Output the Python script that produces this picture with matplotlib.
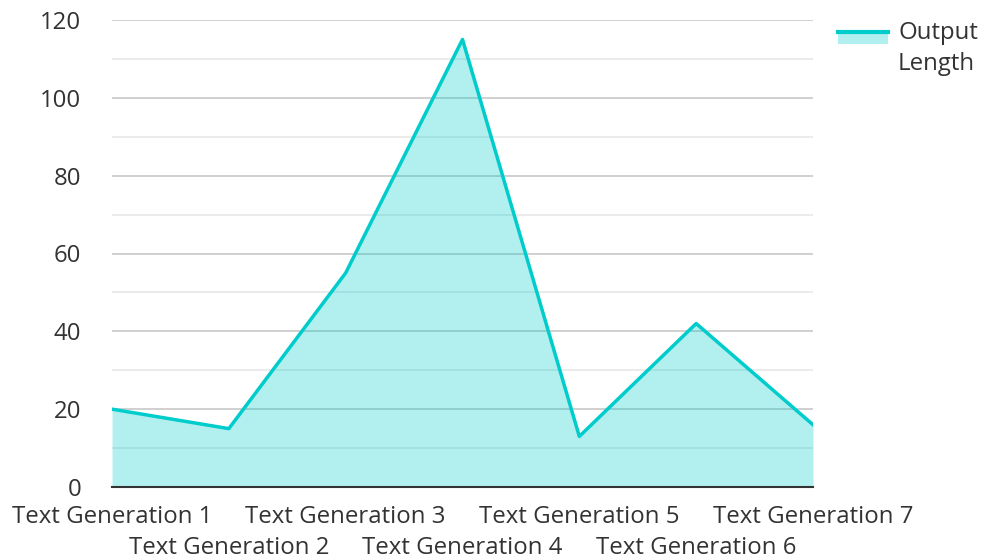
import matplotlib
matplotlib.use('Agg')
import matplotlib.pyplot as plt
from matplotlib.patches import Rectangle
from matplotlib.lines import Line2D
from matplotlib.ticker import FixedLocator, FixedFormatter

plt.rcParams['font.family'] = ['Open Sans', 'DejaVu Sans']

categories = ['Text Generation 1', 'Text Generation 2', 'Text Generation 3',
              'Text Generation 4', 'Text Generation 5', 'Text Generation 6',
              'Text Generation 7']
values = [20, 15, 55, 115, 13, 42, 16]
series_name = 'Output\nLength'

LINE = '#00cccc'
TEXT = '#333333'
FS = 17.3

fig = plt.figure(figsize=(9.84, 5.59), dpi=100)
ax = fig.add_axes([112 / 984, 1 - 487 / 559, 701 / 984, 467 / 559])

x = list(range(len(categories)))
ax.fill_between(x, values, 0, color=LINE, alpha=0.3, linewidth=0, zorder=2)
ax.plot(x, values, color=LINE, linewidth=2.5, zorder=3)

ax.set_xlim(0, len(categories) - 1)
ax.set_ylim(0, 120)
ax.set_yticks(range(0, 121, 20))
ax.yaxis.set_minor_locator(FixedLocator(list(range(10, 120, 20))))
ax.grid(axis='y', which='major', color='#c8c8c8', linewidth=1.2, zorder=1)
ax.grid(axis='y', which='minor', color='#e8e8e8', linewidth=1.2, zorder=1)
ax.set_axisbelow(True)

# stagger labels over two rows: major ticks top row, minor ticks bottom row
top = [i for i in x if i % 2 == 0]
bottom = [i for i in x if i % 2 == 1]
ax.xaxis.set_major_locator(FixedLocator(top))
ax.xaxis.set_major_formatter(FixedFormatter([categories[i] for i in top]))
ax.xaxis.set_minor_locator(FixedLocator(bottom))
ax.xaxis.set_minor_formatter(FixedFormatter([categories[i] for i in bottom]))
ax.tick_params(axis='x', which='major', length=0, pad=13, labelsize=FS, labelcolor=TEXT)
ax.tick_params(axis='x', which='minor', length=0, pad=35.5, labelsize=FS, labelcolor=TEXT)
ax.tick_params(axis='y', which='both', length=0, pad=22, labelsize=FS, labelcolor=TEXT)
ax.tick_params(axis='y', which='minor', labelleft=False)

for s in ['left', 'right', 'top']:
    ax.spines[s].set_visible(False)
ax.spines['bottom'].set_color(TEXT)
ax.spines['bottom'].set_linewidth(1.5)
ax.spines['bottom'].set_zorder(4)

# legend: fill swatch with line on top
W, H = 984, 559
fig.add_artist(Rectangle((838 / W, 1 - 44 / H), 50 / W, 13 / H,
                         transform=fig.transFigure, facecolor=LINE,
                         alpha=0.3, linewidth=0))
fig.add_artist(Line2D([838 / W, 888 / W], [1 - 32 / H, 1 - 32 / H],
                      transform=fig.transFigure, color=LINE, linewidth=3))
fig.text(898 / W, 1 - 21 / H, series_name, fontsize=FS, color=TEXT,
         va='top', ha='left', linespacing=1.4)

fig.savefig('out.png', dpi=100)
